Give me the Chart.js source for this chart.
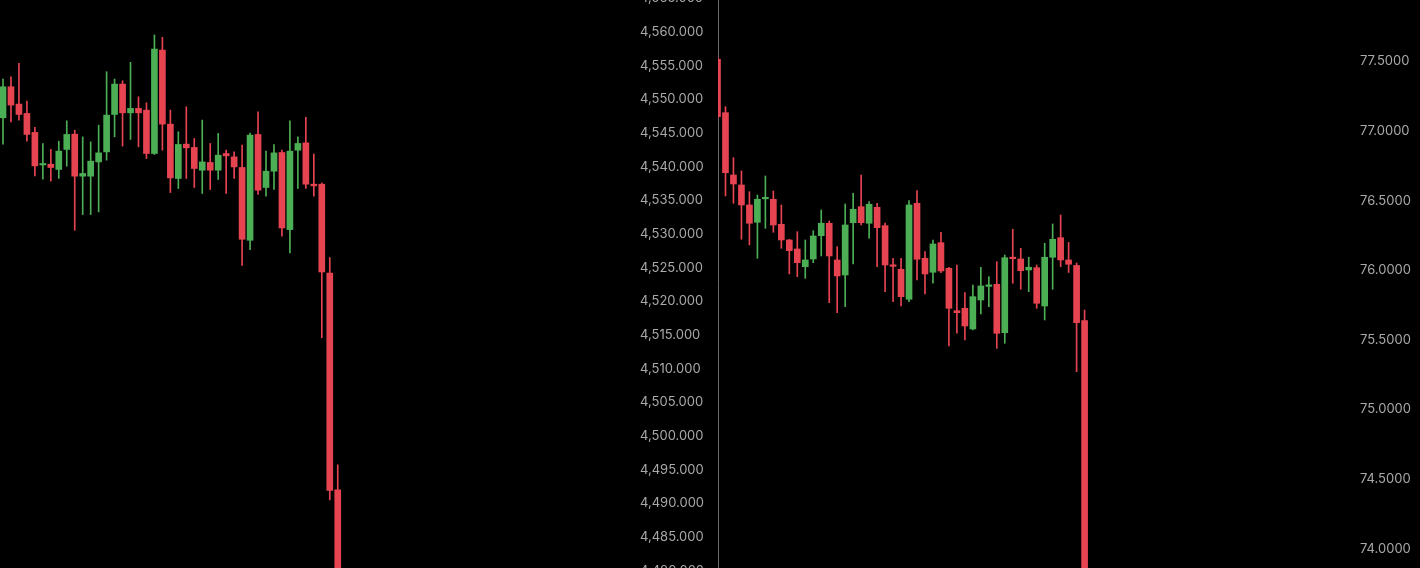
<!DOCTYPE html>
<html>
<head>
<meta charset="utf-8">
<script src="https://cdn.jsdelivr.net/npm/chart.js@4.4.1/dist/chart.umd.min.js"></script>
<style>
  html, body { margin: 0; padding: 0; background: #000; width: 1420px; height: 568px; overflow: hidden; }
  .pane { position: absolute; top: -20px; height: 608px; }
  #leftPane { left: 0; width: 718px; }
  #rightPane { left: 718px; width: 702px; }
</style>
</head>
<body>
<div class="pane" id="leftPane"><canvas id="leftChart" width="718" height="608"></canvas></div>
<div class="pane" id="rightPane"><canvas id="rightChart" width="702" height="608"></canvas></div>
<script>
// left instrument (4,5xx.000)
const leftOpen = [4546.96, 4551.57, 4549.00, 4547.61, 4544.79, 4539.95, 4540.07, 4539.29, 4542.26, 4544.53, 4538.29, 4538.29, 4540.41, 4541.90, 4547.46, 4551.97, 4547.70, 4548.36, 4548.10, 4541.66, 4557.02, 4546.02, 4537.95, 4543.05, 4542.56, 4539.18, 4540.33, 4539.18, 4541.66, 4541.16, 4539.58, 4528.77, 4544.49, 4536.61, 4539.03, 4541.81, 4530.36, 4542.15, 4543.24, 4537.10, 4537.10, 4523.91, 4491.70];
const leftHigh = [4552.71, 4553.05, 4555.05, 4549.44, 4545.53, 4543.15, 4542.26, 4543.49, 4546.51, 4545.13, 4544.13, 4543.39, 4545.87, 4553.80, 4552.71, 4552.46, 4555.20, 4550.08, 4549.19, 4559.26, 4558.91, 4548.10, 4544.88, 4548.59, 4543.89, 4546.62, 4543.15, 4544.64, 4542.15, 4541.90, 4542.90, 4544.68, 4547.85, 4542.01, 4543.00, 4542.15, 4546.51, 4544.13, 4547.02, 4541.56, 4537.29, 4526.20, 4495.42];
const leftLow = [4543.05, 4546.36, 4546.62, 4543.49, 4538.33, 4537.84, 4537.55, 4537.95, 4539.78, 4530.26, 4532.59, 4532.59, 4532.98, 4540.67, 4544.13, 4542.75, 4543.75, 4542.65, 4540.92, 4541.52, 4542.15, 4535.86, 4536.46, 4537.95, 4536.61, 4535.72, 4536.31, 4537.80, 4535.72, 4537.95, 4525.05, 4527.39, 4535.57, 4535.31, 4536.31, 4529.37, 4526.88, 4536.46, 4536.46, 4535.31, 4514.30, 4490.21, 4468.00];
const leftClose = [4551.57, 4548.85, 4547.46, 4544.49, 4539.82, 4540.05, 4539.58, 4542.01, 4544.49, 4538.29, 4538.69, 4540.52, 4541.75, 4547.36, 4551.97, 4547.70, 4548.36, 4547.70, 4541.66, 4557.17, 4546.02, 4538.04, 4543.00, 4542.50, 4539.43, 4540.41, 4539.18, 4541.41, 4541.31, 4539.67, 4528.92, 4544.39, 4536.21, 4539.03, 4541.75, 4530.60, 4542.01, 4543.15, 4537.10, 4536.85, 4524.06, 4491.60, 4470.00];
const leftTickStep = 5;

// right instrument (7x.xxxx)
const rightOpen = [77.5014, 77.1178, 76.6702, 76.5984, 76.4547, 76.3304, 76.4990, 76.4957, 76.3160, 76.2033, 76.1386, 76.0115, 76.0668, 76.2342, 76.3233, 76.0596, 75.9518, 76.3275, 76.4425, 76.3233, 76.4382, 76.3060, 76.0190, 75.9928, 75.7773, 76.4669, 76.0718, 75.9712, 76.1839, 76.0000, 75.6954, 75.7126, 75.5639, 75.7722, 75.8700, 75.8850, 75.5373, 76.0740, 76.0668, 75.9878, 76.0043, 75.7291, 76.0790, 76.2198, 76.0596, 76.0201, 75.6235];
const rightHigh = [77.5200, 77.1609, 76.7945, 76.6990, 76.5502, 76.5265, 76.6630, 76.5553, 76.4547, 76.2083, 76.2629, 76.2033, 76.2701, 76.4188, 76.3398, 76.1551, 76.4619, 76.5388, 76.6702, 76.4784, 76.4669, 76.3240, 76.0718, 76.0718, 76.4856, 76.5574, 76.1192, 76.2033, 76.2586, 76.0072, 76.0237, 75.8247, 75.8800, 76.0072, 75.9396, 76.0474, 76.0955, 76.2801, 76.1436, 76.0790, 76.0237, 76.1796, 76.3182, 76.3829, 76.1853, 76.0380, 75.7004];
const rightLow = [77.0800, 76.5194, 76.4669, 76.2083, 76.1673, 76.0718, 76.2873, 76.2586, 76.1436, 75.9590, 75.9396, 75.9281, 76.0402, 76.0883, 75.7528, 75.6810, 75.7241, 76.0309, 76.3110, 76.2155, 76.0115, 75.8319, 75.7600, 75.7291, 75.7600, 75.9159, 75.8153, 75.8922, 75.9683, 75.4418, 75.5330, 75.4849, 75.5567, 75.6717, 75.7241, 75.4252, 75.4612, 75.8922, 75.8491, 75.8319, 75.7126, 75.6286, 75.8491, 76.0115, 75.9698, 75.2571, 73.7500];
const rightClose = [77.0890, 76.6867, 76.6056, 76.4547, 76.3233, 76.4957, 76.5050, 76.3110, 76.2033, 76.1264, 76.0402, 76.0596, 76.2320, 76.3233, 76.0883, 75.9446, 76.3110, 76.4238, 76.3275, 76.4597, 76.2916, 76.0237, 76.0140, 75.7960, 76.4547, 76.0646, 75.9590, 76.1745, 75.9806, 75.7126, 75.6810, 75.5854, 75.7960, 75.8728, 75.8760, 75.5330, 76.0761, 76.0690, 75.9827, 76.0072, 75.7485, 76.0790, 76.2083, 76.0596, 76.0287, 75.6092, 73.8000];
const rightTickStep = 0.5;

const UP = '#4caf55';
const DOWN = '#e74452';
const TICK_COLOR = '#a9a9a9';

function candleDatasets(open, high, low, close) {
    const color = ctx => close[ctx.dataIndex] >= open[ctx.dataIndex] ? UP : DOWN;
    return [
        {
            label: 'wick',
            data: open.map((_, i) => ({ x: i, y: [low[i], high[i]] })),
            backgroundColor: color,
            barThickness: 1,
            grouped: false,
            borderWidth: 0
        },
        {
            label: 'body',
            data: open.map((_, i) => ({ x: i, y: [open[i], close[i]] })),
            backgroundColor: color,
            barThickness: 6,
            minBarLength: 1.5,
            grouped: false,
            borderWidth: 0
        }
    ];
}

function makeChart(canvasId, open, high, low, close, opts) {
    const scales = {
        x: {
            type: 'linear',
            display: false,
            offset: false,
            grid: { offset: false },
            min: opts.xMin,
            max: opts.xMax
        },
        y: {
            position: 'right',
            min: opts.yMin,
            max: opts.yMax,
            grid: { display: false, drawTicks: false },
            border: { display: false },
            ticks: {
                stepSize: opts.step,
                includeBounds: false,
                padding: 10,
                labelOffset: 2,
                color: TICK_COLOR,
                font: { family: 'Inter', size: 13 },
                callback: opts.format
            },
            afterFit: s => { s.width = opts.axisWidth; s.paddingTop = 0; s.paddingBottom = 0; }
        }
    };
    if (opts.leftBorder) {
        scales.edge = {
            type: 'linear',
            position: 'left',
            min: 0,
            max: 1,
            ticks: { display: false },
            grid: { display: false, drawTicks: false },
            border: { display: true, color: '#6a6a6a', width: 1 },
            afterFit: s => { s.width = 0; s.paddingTop = 0; s.paddingBottom = 0; }
        };
    }
    return new Chart(document.getElementById(canvasId), {
        type: 'bar',
        data: { datasets: candleDatasets(open, high, low, close) },
        options: {
            responsive: false,
            devicePixelRatio: 1,
            animation: false,
            layout: { padding: 0 },
            scales: scales,
            plugins: { legend: { display: false }, tooltip: { enabled: false } }
        }
    });
}

// left: plot area 0..630 px, candle 0 at x=3, pitch 7.97 px
makeChart('leftChart', leftOpen, leftHigh, leftLow, leftClose, {
    xMin: -3 / 7.97,
    xMax: -3 / 7.97 + 630 / 7.97,
    yMin: 4477.12,
    yMax: 4567.43,
    step: leftTickStep,
    axisWidth: 88,
    format: v => v.toLocaleString('en-US', { minimumFractionDigits: 3, maximumFractionDigits: 3 })
});

// right: plot area 0..632 px, candle 0 half hidden at the left edge
makeChart('rightChart', rightOpen, rightHigh, rightLow, rightClose, {
    xMin: 0.5 / 7.98,
    xMax: 0.5 / 7.98 + 632 / 7.98,
    yMin: 73.703,
    yMax: 78.071,
    step: rightTickStep,
    axisWidth: 70,
    leftBorder: true,
    format: v => v.toFixed(4)
});
</script>
</body>
</html>
